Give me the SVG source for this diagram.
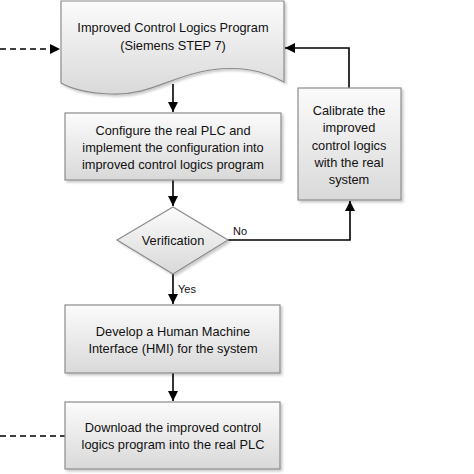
<svg xmlns="http://www.w3.org/2000/svg" width="474" height="474" viewBox="0 0 474 474">
<defs>
<linearGradient id="g" x1="0" y1="0" x2="0" y2="1">
<stop offset="0" stop-color="#fbfbfb"/>
<stop offset="1" stop-color="#d9d9d9"/>
</linearGradient>
<marker id="ah" viewBox="0 0 10 10" refX="10" refY="5" markerWidth="10" markerHeight="10" markerUnits="userSpaceOnUse" orient="auto">
<path d="M0,0 L10,5 L0,10 z" fill="#000"/>
</marker>
<filter id="sh" x="-5%" y="-5%" width="115%" height="120%">
<feDropShadow dx="2" dy="2" stdDeviation="1" flood-color="#000" flood-opacity="0.2"/>
</filter>
</defs>
<style>
.box{fill:url(#g);stroke:#8c8c8c;stroke-width:1.2;filter:url(#sh)}
.t{font-family:"Liberation Sans",Arial,sans-serif;font-size:12.8px;fill:#111;text-anchor:middle}
.l{font-family:"Liberation Sans",Arial,sans-serif;font-size:11px;fill:#111}
.c{fill:none;stroke:#000;stroke-width:1.6}
.d{fill:none;stroke:#000;stroke-width:1.6;stroke-dasharray:6,4}
</style>
<rect width="474" height="474" fill="#fff"/>
<g id="connectors">
<path class="d" d="M0,49 H60" marker-end="url(#ah)"/>
<path class="c" d="M173,84 V112" marker-end="url(#ah)"/>
<path class="c" d="M173,180 V206" marker-end="url(#ah)"/>
<path class="c" d="M228,240 H350 V201" marker-end="url(#ah)"/>
<path class="c" d="M349,88 V48 H285" marker-end="url(#ah)"/>
<path class="c" d="M173,274 V304" marker-end="url(#ah)"/>
<path class="c" d="M173,373 V401" marker-end="url(#ah)"/>
<path class="d" d="M0,436 H65"/>
<text class="l" x="233" y="235">No</text>
<text class="l" x="178" y="293">Yes</text>
</g>
<g id="program">
<path class="box" d="M61,1 H284 V82 C262,70 240,66 210,70 C170,76 150,96 110,94 C85,93 70,88 61,83 Z"/>
<text class="t" x="173" y="32">Improved Control Logics Program</text>
<text class="t" x="173" y="50">(Siemens STEP 7)</text>
</g>
<g id="configure">
<rect class="box" x="65" y="113" width="216" height="67"/>
<text class="t" x="173" y="135">Configure the real PLC and</text>
<text class="t" x="173" y="152">implement the configuration into</text>
<text class="t" x="173" y="169">improved control logics program</text>
</g>
<g id="verification">
<path class="box" d="M173,207 L228,240 L173,274 L117,240 Z"/>
<text class="t" x="173" y="245">Verification</text>
</g>
<g id="calibrate">
<rect class="box" x="298" y="88" width="103" height="112"/>
<text class="t" x="349" y="115">Calibrate the</text>
<text class="t" x="349" y="132">improved</text>
<text class="t" x="349" y="150">control logics</text>
<text class="t" x="349" y="167">with the real</text>
<text class="t" x="349" y="184">system</text>
</g>
<g id="hmi">
<rect class="box" x="65" y="305" width="215" height="68"/>
<text class="t" x="173" y="336">Develop a Human Machine</text>
<text class="t" x="173" y="353">Interface (HMI) for the system</text>
</g>
<g id="download">
<rect class="box" x="65" y="402" width="215" height="67"/>
<text class="t" x="173" y="432">Download the improved control</text>
<text class="t" x="173" y="449">logics program into the real PLC</text>
</g>
</svg>
